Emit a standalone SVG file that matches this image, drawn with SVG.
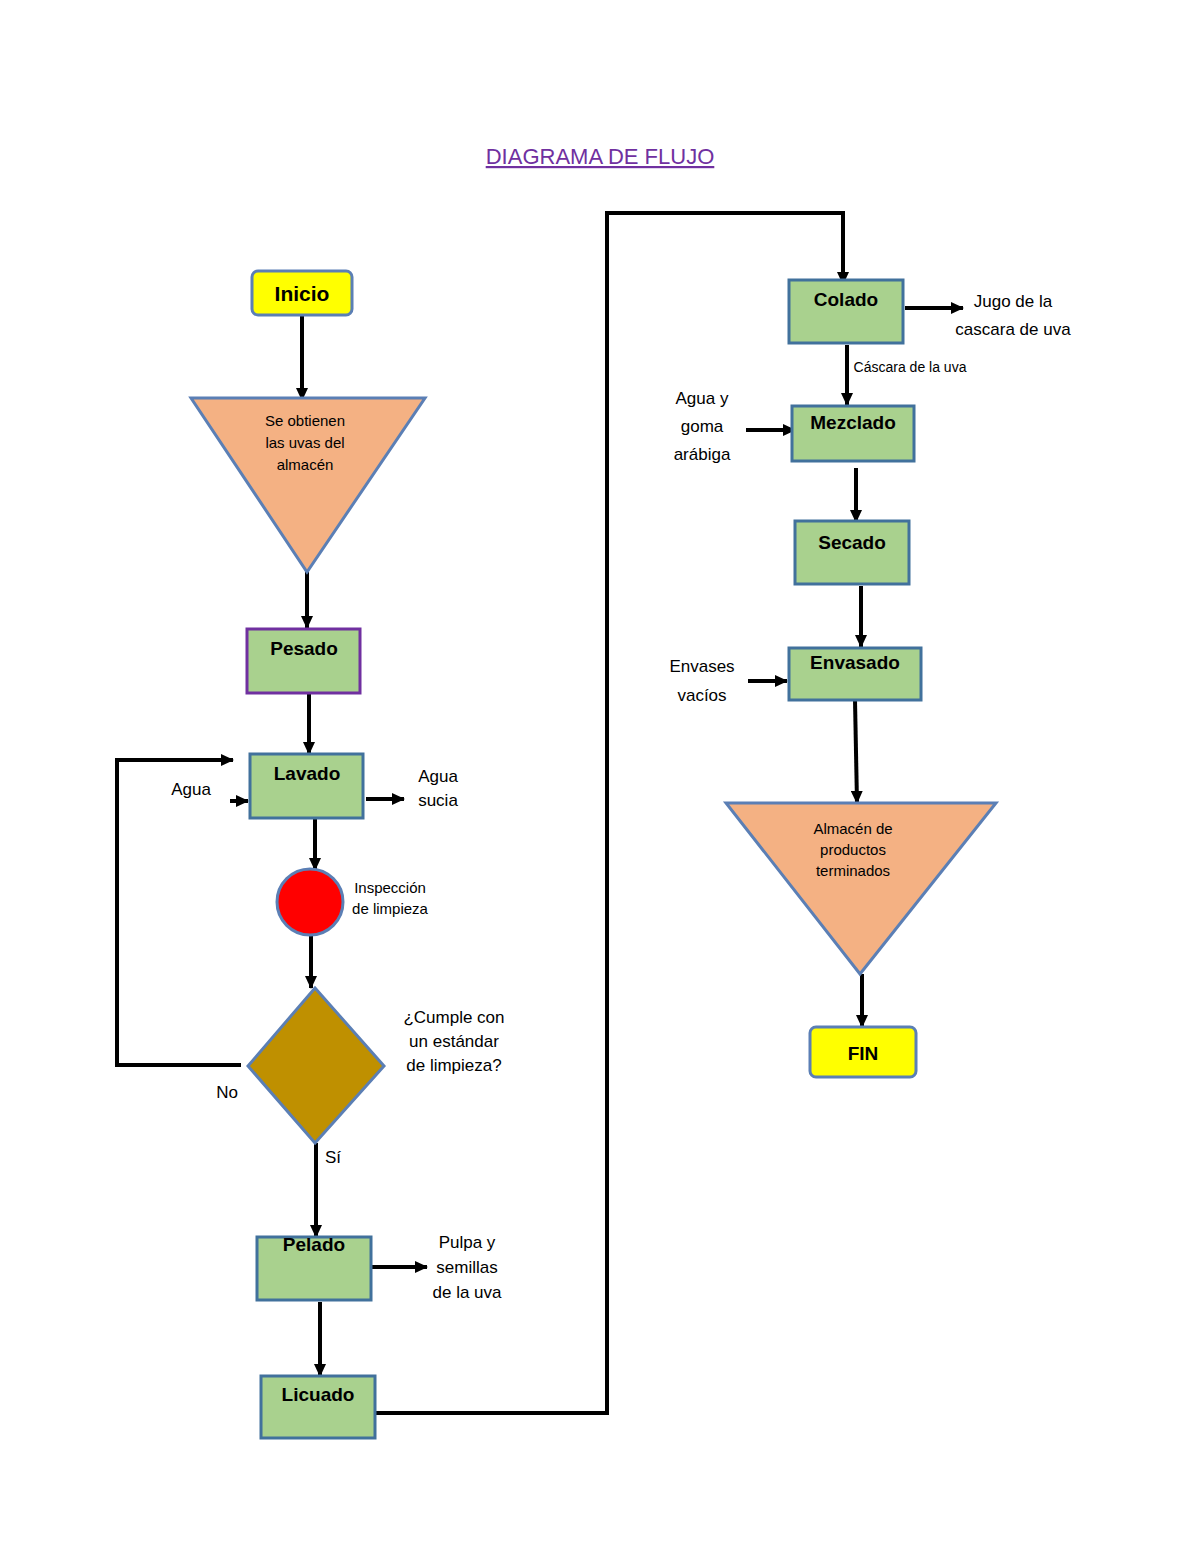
<svg xmlns="http://www.w3.org/2000/svg" width="1200" height="1553" viewBox="0 0 1200 1553">
<defs>
<marker id="ah" markerWidth="14" markerHeight="12" refX="12" refY="6" orient="auto" markerUnits="userSpaceOnUse"><path d="M0,0 L13,6 L0,12 Z" fill="#000"/></marker>
<style>
.c{stroke:#000;stroke-width:4;fill:none}
.a{stroke:#000;stroke-width:4;fill:none;marker-end:url(#ah)}
.box{fill:#a9d18e;stroke:#41719c;stroke-width:3}
.t{font-family:"Liberation Sans",Arial,sans-serif;text-anchor:middle;fill:#000}
.b{font-weight:bold;font-size:19px}
.s{font-size:17px}
.m{font-size:15px}
</style>
</defs>
<rect width="1200" height="1553" fill="#fff"/>
<text x="600" y="164" class="t" style="font-size:22px;fill:#7030a0;text-decoration:underline">DIAGRAMA DE FLUJO</text>
<g id="connectors">
<path class="a" d="M302,315 V400"/>
<path class="a" d="M307,572 V628"/>
<path class="a" d="M309,693 V754"/>
<path class="a" d="M230,801 H248"/>
<path class="a" d="M366,799 H404"/>
<path class="a" d="M241,1065 H117 V760 H233"/>
<path class="a" d="M315,818 V870"/>
<path class="a" d="M311,935 V988"/>
<path class="a" d="M316,1143 V1237"/>
<path class="a" d="M371,1267 H427"/>
<path class="a" d="M320,1302 V1376"/>
<path class="a" d="M375,1413 H607 V213 H843 V284"/>
<path class="a" d="M905,308 H963"/>
<path class="a" d="M847,345 V405"/>
<path class="a" d="M746,430 H795"/>
<path class="a" d="M856,468 V522"/>
<path class="a" d="M861,586 V647"/>
<path class="a" d="M748,681 H787"/>
<path class="a" d="M855,700 L857,803"/>
<path class="a" d="M862,974 V1027"/>
</g>
<g id="inicio"><rect x="252" y="271" width="100" height="44" rx="6" fill="#ffff00" stroke="#5b7fb5" stroke-width="3"/><text x="302" y="301" class="t" style="font-size:21px;font-weight:bold">Inicio</text></g>
<g id="obtienen"><polygon points="191,398 425,398 307,572" fill="#f4b183" stroke="#5b7fb5" stroke-width="3"/><text class="t m" x="305" y="426">Se obtienen</text><text class="t m" x="305" y="448">las uvas del</text><text class="t m" x="305" y="470">almacén</text></g>
<g id="pesado"><rect x="247" y="629" width="113" height="64" fill="#a9d18e" stroke="#7030a0" stroke-width="3"/><text class="t b" x="304" y="655">Pesado</text></g>
<g id="lavado"><rect class="box" x="250" y="754" width="113" height="64"/><text class="t b" x="307" y="780">Lavado</text></g>
<g id="lbl-agua"><text class="t s" x="191" y="795">Agua</text><text class="t s" x="438" y="782">Agua</text><text class="t s" x="438" y="806">sucia</text></g>
<g id="inspeccion"><circle cx="310" cy="902" r="33" fill="#ff0000" stroke="#5b7fb5" stroke-width="3"/><text class="t m" x="390" y="893">Inspección</text><text class="t m" x="390" y="914">de limpieza</text></g>
<g id="decision"><polygon points="315,988 384,1066 315,1143 248,1066" fill="#bf9000" stroke="#5b7fb5" stroke-width="3"/><text class="t s" x="454" y="1023">¿Cumple con</text><text class="t s" x="454" y="1047">un estándar</text><text class="t s" x="454" y="1071">de limpieza?</text><text class="t s" x="227" y="1098">No</text><text class="t s" x="333" y="1163">Sí</text></g>
<g id="pelado"><rect class="box" x="257" y="1237" width="114" height="63"/><text class="t b" x="314" y="1251">Pelado</text><text class="t s" x="467" y="1248">Pulpa y</text><text class="t s" x="467" y="1273">semillas</text><text class="t s" x="467" y="1298">de la uva</text></g>
<g id="licuado"><rect class="box" x="261" y="1376" width="114" height="62"/><text class="t b" x="318" y="1401">Licuado</text></g>
<g id="colado"><rect class="box" x="789" y="280" width="114" height="63"/><text class="t b" x="846" y="306">Colado</text><text class="t s" x="1013" y="307">Jugo de la</text><text class="t s" x="1013" y="335">cascara de uva</text><text class="t" style="font-size:14px" x="910" y="372">Cáscara de la uva</text></g>
<g id="mezclado"><rect class="box" x="792" y="406" width="122" height="55"/><text class="t b" x="853" y="429">Mezclado</text><text class="t s" x="702" y="404">Agua y</text><text class="t s" x="702" y="432">goma</text><text class="t s" x="702" y="460">arábiga</text></g>
<g id="secado"><rect class="box" x="795" y="521" width="114" height="63"/><text class="t b" x="852" y="549">Secado</text></g>
<g id="envasado"><rect class="box" x="789" y="648" width="132" height="52"/><text class="t b" x="855" y="669">Envasado</text><text class="t s" x="702" y="672">Envases</text><text class="t s" x="702" y="701">vacíos</text></g>
<g id="almacen"><polygon points="726,803 996,803 860,974" fill="#f4b183" stroke="#5b7fb5" stroke-width="3"/><text class="t m" x="853" y="834">Almacén de</text><text class="t m" x="853" y="855">productos</text><text class="t m" x="853" y="876">terminados</text></g>
<g id="fin"><rect x="810" y="1027" width="106" height="50" rx="6" fill="#ffff00" stroke="#5b7fb5" stroke-width="3"/><text class="t b" x="863" y="1060">FIN</text></g>
</svg>
